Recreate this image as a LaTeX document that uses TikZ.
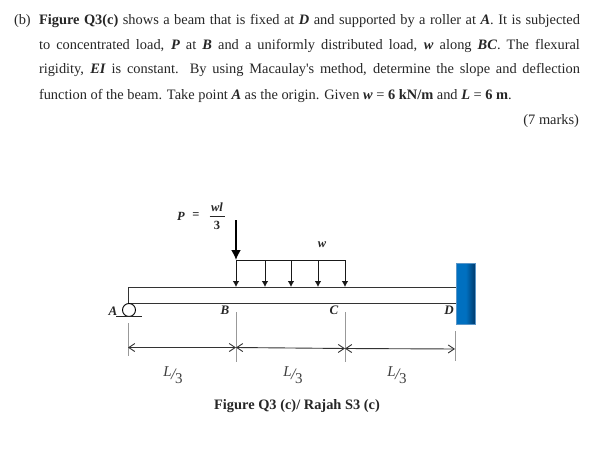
\documentclass[tikz,border=0pt]{standalone}
\usepackage{fontspec}
\setmainfont{Liberation Serif}
\newfontfamily\plainquote[Ligatures=ResetAll]{Liberation Serif}
\usetikzlibrary{arrows.meta}
\definecolor{wallL}{RGB}{0,112,192}
\definecolor{wallR}{RGB}{0,58,108}
\definecolor{wallE}{RGB}{90,150,200}
\newcommand{\lline}[1]{\makebox[541pt][s]{#1}}
\newcommand{\lthird}{\textit{\fontsize{15}{15}\selectfont\raisebox{3pt}{L}\kern-0.5pt\raisebox{-0.5pt}{\fontsize{16}{16}\selectfont /}\kern-0.5pt\raisebox{-4.5pt}{\upshape 3}}}
\tikzset{
  x=1pt,y=-1pt,
  body/.style={inner sep=0pt,outer sep=0pt,anchor=base west,font=\fontsize{14.4}{16}\selectfont,text=black!85},
  tag/.style={inner sep=0pt,font=\fontsize{13}{14}\selectfont\bfseries\itshape,text=black!85},
  loadtag/.style={inner sep=0pt,font=\fontsize{12.5}{14}\selectfont\bfseries\itshape,text=black!85},
  loadnum/.style={inner sep=0pt,font=\fontsize{12.5}{14}\selectfont\bfseries,text=black!85},
  dimtext/.style={inner sep=0pt,text=black!75},
  loadarrow/.style={draw=black!90,line width=0.9pt,-{Latex[length=6pt,width=6.5pt]}},
  pointload/.style={draw=black,line width=1.8pt,-{Latex[length=10pt,width=10pt]}},
  extline/.style={draw=black!40,line width=0.8pt},
  dimline/.style={draw=black!80,line width=0.9pt,{Straight Barb[length=6pt,width=8pt]}-{Straight Barb[length=6pt,width=8pt]}},
  beamline/.style={draw=black!80,line width=0.9pt}
}
\begin{document}
\begin{tikzpicture}
\useasboundingbox[fill=white] (0,0) rectangle (606,471);
% question text
\node[body] (tb) at (14,24) {(b)};
\node[body] (t1) at (39,24) {\lline{\textbf{Figure Q3(c)} shows a beam that is fixed at \textbf{\textit{D}} and supported by a roller at \textbf{\textit{A}}. It is subjected}};
\node[body] (t2) at (39,49) {\lline{to concentrated load, \textbf{\textit{P}} at \textbf{\textit{B}} and a uniformly distributed load, \textbf{\textit{w}} along \textbf{\textit{BC}}. The flexural}};
\node[body] (t3) at (39,74) {\lline{rigidity, \textbf{\textit{EI}} is constant. By using Macaulay{\plainquote '}s method, determine the slope and deflection}};
\node[body] (t4) at (39,99) {function of the beam. Take point \textbf{\textit{A}} as the origin. Given \textbf{\textit{w}} = \textbf{6 kN/m} and \textbf{\textit{L}} = \textbf{6 m}.};
\node[body,anchor=base east] (marks) at (579,124) {(7 marks)};
% beam and wall
\node[draw=black!80,line width=0.9pt,minimum width=328pt,minimum height=16pt,inner sep=0pt,anchor=north west] (beam) at (128,287) {};
\node[minimum width=19pt,minimum height=61pt,inner sep=0pt,anchor=north west,left color=wallL,right color=wallR,middle color=wallL,draw=wallE,line width=0.4pt] (wall) at (456,263) {};
% support
\node[circle,draw=black,line width=0.9pt,fill=white,minimum size=13pt,inner sep=0pt] (roller) at (129,310) {};
\coordinate (gl) at (116,316.5);
\coordinate (gr) at (142,316.5);
\draw[line width=0.9pt,draw=black!85] (gl) -- (gr);
% point labels
\node[tag] (la) at (113,311) {A};
\node[tag] (lb) at (225,310) {B};
\node[tag] (lc) at (334,310) {C};
\node[tag] (ld) at (449,310) {D};
% distributed load
\coordinate (u0) at (236,260); \coordinate (u1) at (265,260); \coordinate (u2) at (291,260); \coordinate (u3) at (318,260); \coordinate (u4) at (345,260);
\coordinate (b0) at (236,287); \coordinate (b1) at (265,287); \coordinate (b2) at (291,287); \coordinate (b3) at (318,287); \coordinate (b4) at (345,287);
\draw[beamline,draw=black!90] (u0) -- (u4);
\foreach \i in {0,...,4} \draw[loadarrow] (u\i) -- (b\i);
\coordinate (ptop) at (236,220);
\draw[pointload] (ptop) -- (u0);
\node[loadtag] (lw) at (322,245) {w};
\node[loadtag] (lp) at (181,216) {P};
\node[loadnum] (leq) at (196,216) {=};
\node[loadtag] (lwl) at (217,207) {wl};
\node[loadnum] (l3) at (217,225.5) {3};
\coordinate (fl) at (209.5,216); \coordinate (fr) at (225,216);
\draw[line width=0.8pt,draw=black!85] (fl) -- (fr);
% dimensions
\coordinate (ea1) at (128,323); \coordinate (ea2) at (128,356);
\coordinate (eb1) at (236,312); \coordinate (eb2) at (236,362);
\coordinate (ec1) at (345,312); \coordinate (ec2) at (345,362);
\coordinate (ed1) at (455,331); \coordinate (ed2) at (455,361);
\draw[extline] (ea1) -- (ea2);
\draw[extline] (eb1) -- (eb2);
\draw[extline] (ec1) -- (ec2);
\draw[extline] (ed1) -- (ed2);
\coordinate (da) at (128,347.5); \coordinate (db) at (236,347.5); \coordinate (dc) at (345,348.5); \coordinate (dd) at (455,349);
\draw[dimline] (da) -- (db);
\draw[dimline] (db) -- (dc);
\draw[dimline] (dc) -- (dd);
\node[dimtext] (d1) at (173,375) {\lthird};
\node[dimtext] (d2) at (293,375) {\lthird};
\node[dimtext] (d3) at (397,375) {\lthird};
\node[inner sep=0pt,font=\fontsize{14.4}{16}\selectfont\bfseries,text=black!85] (cap) at (297,406) {Figure Q3 (c)/ Rajah S3 (c)};
\end{tikzpicture}
\end{document}
